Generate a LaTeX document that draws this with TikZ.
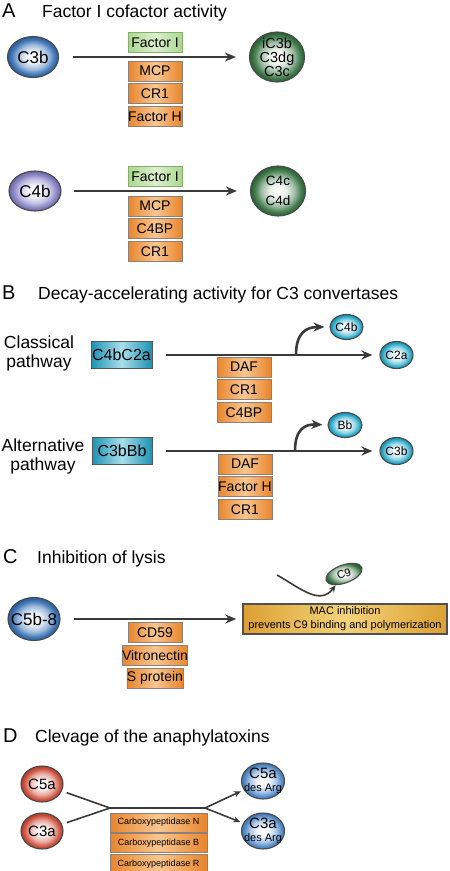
\documentclass[tikz,border=0pt]{standalone}
\usepackage{fontspec}
\setmainfont{Liberation Sans}
\usetikzlibrary{arrows.meta,positioning,shapes.geometric}
\definecolor{FlowGray}{HTML}{3A3A3A}
\definecolor{MolEdge}{HTML}{4A4A4A}
\definecolor{FacEdge}{HTML}{8C8078}
\definecolor{FacOrange}{HTML}{E8852C}
\definecolor{FacLight}{HTML}{F8C690}
\definecolor{CofEdge}{HTML}{82B06C}
\definecolor{CofGreen}{HTML}{AAD68E}
\definecolor{CofLight}{HTML}{DDF0CF}
\definecolor{ConvEdge}{HTML}{4E5A60}
\definecolor{ConvTeal}{HTML}{1B92B3}
\definecolor{ConvLight}{HTML}{A9DEEA}
\definecolor{MacEdge}{HTML}{505050}
\definecolor{MacGold}{HTML}{DCA032}
\definecolor{MacLight}{HTML}{F4D27A}
\definecolor{C3bBlue}{HTML}{2E6AB0}
\definecolor{C4bLilac}{HTML}{7C78C0}
\definecolor{ProdGreen}{HTML}{2E6E3A}
\definecolor{FragCyan}{HTML}{19A3C6}
\definecolor{AnaRed}{HTML}{CC4530}
\definecolor{ArgBlue}{HTML}{4A86C8}
\colorlet{molc}{C3bBlue}
\pgfdeclareradialshading[molc]{molglow}{\pgfpoint{0bp}{0bp}}{color(0bp)=(white); color(7bp)=(molc!8!white); color(15bp)=(molc!45!white); color(21bp)=(molc!90!white); color(25bp)=(molc!85!black); color(50bp)=(molc!85!black)}

\begin{document}
\begin{tikzpicture}[
  x=1pt, y=-1pt,
  node distance=2pt,
  mol/.style={ellipse, draw=MolEdge, line width=1.1pt, shade, shading=molglow, inner sep=-12pt, font=\fontsize{17}{17}\selectfont},
  tint/.code={\colorlet{molc}{#1}},
  frag/.style={mol, minimum width=33pt, minimum height=27pt, font=\fontsize{12}{12}\selectfont, tint=FragCyan},
  bar/.style 2 args={left color=#1, right color=#1, middle color=#2},
  fac/.style={draw=FacEdge, line width=0.9pt, bar={FacOrange}{FacLight}, minimum width=54pt, minimum height=20pt, inner sep=0pt, font=\fontsize{14}{14}\selectfont},
  cof/.style={fac, draw=CofEdge, bar={CofGreen}{CofLight}},
  conv/.style={draw=ConvEdge, line width=1pt, bar={ConvTeal}{ConvLight}, minimum height=27pt, inner sep=0pt, font=\fontsize{16}{16}\selectfont},
  cpase/.style={fac, minimum width=97pt, minimum height=19pt, font=\fontsize{9}{9}\selectfont},
  flow/.style={-{Stealth[length=11pt,width=9pt]}, line width=2.6pt, draw=FlowGray},
  cut/.style={-{Stealth[length=7pt,width=6pt]}, line width=1.6pt, draw=FlowGray},
  panel/.style={anchor=base west, inner sep=0pt, font=\fontsize{20}{20}\selectfont},
  heading/.style={anchor=base west, inner sep=0pt, font=\fontsize{17.5}{17.5}\selectfont},
  route/.style={align=center, inner sep=0pt, font=\fontsize{17.5}{19}\selectfont}
]
\useasboundingbox (0,0) rectangle (450,871);

% A
\node[panel] (labA) at (2,17) {A};
\node[heading] (headA) at (42,17) {Factor I cofactor activity};
\node[mol, tint=C3bBlue, minimum width=51pt, minimum height=41pt] (c3b) at (33,57) {C3b};
\node[mol, tint=ProdGreen, minimum width=55pt, minimum height=50pt, align=center, font=\fontsize{14.5}{14}\selectfont] (ic3b) at (277,57) {iC3b\\C3dg\\C3c};
\node[cof] (fiA) at (155,42.5) {Factor I};
\node[fac] (mcpA) at (155,71) {MCP};
\node[fac, below=of mcpA] (cr1A) {CR1};
\node[fac, below=of cr1A] (fhA) {Factor H};
\draw[flow, shorten <=14pt, shorten >=13pt] (c3b) -- (ic3b);

\node[mol, tint=C4bLilac, minimum width=52pt, minimum height=40pt] (c4b) at (35,191) {C4b};
\node[mol, tint=ProdGreen, minimum width=55pt, minimum height=50pt, align=center, font=\fontsize{13.5}{20}\selectfont] (c4c) at (278,191) {C4c\\C4d};
\node[cof] (fiB) at (155,176.5) {Factor I};
\node[fac] (mcpB) at (155,206) {MCP};
\node[fac, below=of mcpB] (c4bpB) {C4BP};
\node[fac, below=of c4bpB] (cr1B) {CR1};
\draw[flow, shorten <=12pt, shorten >=13pt] (c4b) -- (c4c);

% B
\node[panel] (labB) at (2,299) {B};
\node[heading] (headB) at (38,299) {Decay-accelerating activity for C3 convertases};
\node[route] (classic) at (39,353) {Classical\\pathway};
\node[conv, minimum width=61pt] (c4bc2a) at (121.5,355) {C4bC2a};
\node[frag] (c2a) at (396.5,355) {C2a};
\node[frag, minimum height=25pt] (c4bout) at (346.5,327) {C4b};
\draw[flow, shorten <=13pt, shorten >=7pt] (c4bc2a) -- (c2a);
\coordinate (relC4b) at (296,355);
\draw[flow, shorten >=5pt] (relC4b) .. controls (296,333) and (306,327) .. (c4bout.west);
\node[fac] (dafB) at (244,367) {DAF};
\node[fac, below=of dafB] (cr1C) {CR1};
\node[fac, below=of cr1C] (c4bpC) {C4BP};

\node[route] (altern) at (43,456) {Alternative\\pathway};
\node[conv, minimum width=60pt] (c3bbb) at (122,451) {C3bBb};
\node[frag] (c3bout) at (396.5,451) {C3b};
\node[frag, minimum width=34pt, minimum height=25pt] (bb) at (345,425) {Bb};
\draw[flow, shorten <=13pt, shorten >=7pt] (c3bbb) -- (c3bout);
\coordinate (relBb) at (295,451);
\draw[flow, shorten >=5pt] (relBb) .. controls (295,429) and (305,424) .. (bb.west);
\node[fac] (dafC) at (245,464) {DAF};
\node[fac, below=of dafC] (fhC) {Factor H};
\node[fac, below=of fhC] (cr1D) {CR1};

% C
\node[panel] (labC) at (3,563) {C};
\node[heading] (headC) at (37,563) {Inhibition of lysis};
\node[mol, tint=C3bBlue, minimum width=52pt, minimum height=43pt] (c5b8) at (34,619) {C5b-8};
\node[draw=MacEdge, line width=1.4pt, bar={MacGold}{MacLight}, minimum width=204pt, minimum height=30pt, inner sep=0pt, align=center, font=\fontsize{11}{14}\selectfont] (mac) at (345,619) {MAC inhibition\\prevents C9 binding and polymerization};
\draw[flow, shorten <=13pt, shorten >=6pt] (c5b8) -- (mac);
\node[mol, tint=ProdGreen, rotate=20, inner sep=0pt, minimum width=38pt, minimum height=18pt, font=\fontsize{11}{11}\selectfont] (c9) at (344,574) {C9};
\coordinate (c9tail) at (277,575);
\draw[cut] (c9tail) .. controls (300,588) and (320,606) .. (c9);
\node[fac] (cd59) at (155,632.5) {CD59};
\node[fac, minimum width=64pt, below=of cd59] (vitro) {Vitronectin};
\node[fac, below=of vitro] (sprot) {S protein};

% D
\node[panel] (labD) at (3,742) {D};
\node[heading] (headD) at (35,742) {Clevage of the anaphylatoxins};
\node[mol, tint=AnaRed, minimum width=42pt, minimum height=36pt, font=\fontsize{15}{15}\selectfont] (c5a) at (42,784) {C5a};
\node[mol, tint=AnaRed, minimum width=42pt, minimum height=36pt, font=\fontsize{15}{15}\selectfont] (c3a) at (42,831) {C3a};
\node[mol, tint=ArgBlue, minimum width=43pt, minimum height=36pt, align=center, font=\fontsize{15}{13}\selectfont] (c5ad) at (263,781) {C5a\\{\fontsize{11}{11}\selectfont des Arg}};
\node[mol, tint=ArgBlue, minimum width=43pt, minimum height=36pt, align=center, font=\fontsize{15}{13}\selectfont] (c3ad) at (263,831) {C3a\\{\fontsize{11}{11}\selectfont des Arg}};
\coordinate (merge) at (110,808);
\coordinate (split) at (205,808);
\draw[line width=1.6pt, draw=FlowGray, shorten <=5pt] (c5a) -- (merge);
\draw[line width=1.6pt, draw=FlowGray, shorten <=5pt] (c3a) -- (merge);
\draw[line width=2pt, draw=FlowGray] (merge) -- (split);
\draw[cut, shorten >=3pt] (split) -- (c5ad);
\draw[cut, shorten >=3pt] (split) -- (c3ad);
\node[cpase] (cpn) at (158.5,822.5) {Carboxypeptidase N};
\node[cpase, below=1pt of cpn] (cpb) {Carboxypeptidase B};
\node[cpase, below=1pt of cpb] (cpr) {Carboxypeptidase R};
\end{tikzpicture}
\end{document}
